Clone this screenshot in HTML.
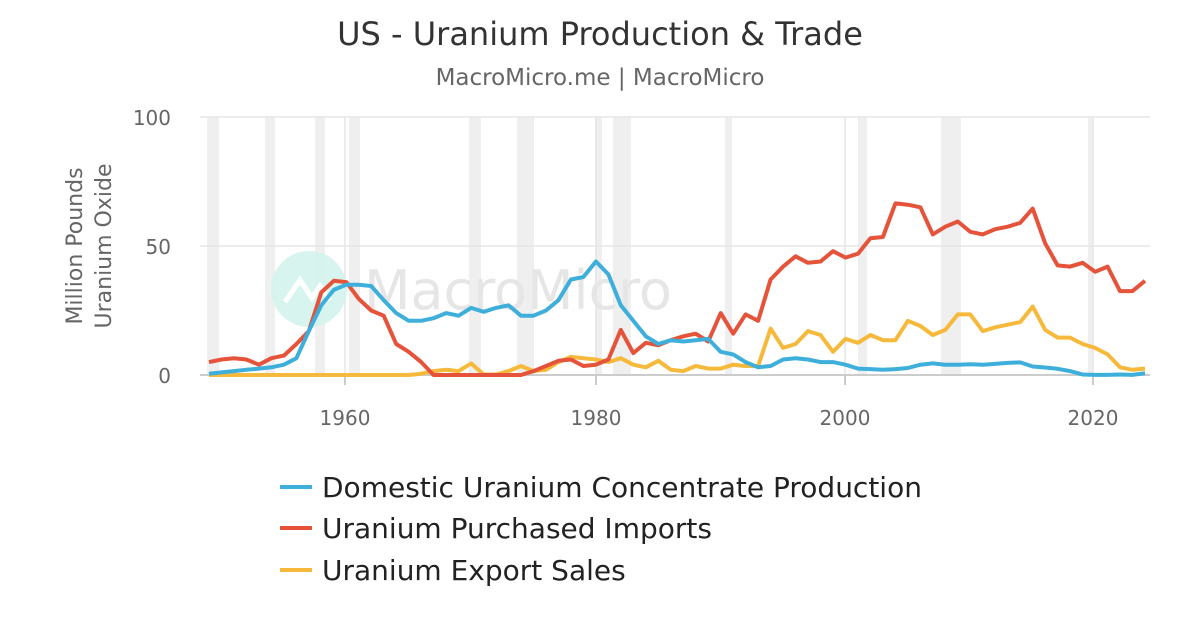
<!DOCTYPE html>
<html><head><meta charset="utf-8"><style>
body{margin:0;background:#fff;width:1200px;height:630px;overflow:hidden;font-family:"DejaVu Sans","Liberation Sans",sans-serif}
</style></head><body>
<svg id="s" width="1200" height="630" xmlns="http://www.w3.org/2000/svg" font-family="DejaVu Sans, Liberation Sans, sans-serif">
<text x="600" y="45" text-anchor="middle" font-size="32" fill="#333">US - Uranium Production &amp; Trade</text>
<text x="600" y="85" text-anchor="middle" font-size="23" fill="#666">MacroMicro.me | MacroMicro</text>
<g fill="#efefef">
<rect x="207" y="117" width="12" height="258"/><rect x="265" y="117" width="10" height="258"/>
<rect x="315" y="117" width="10" height="258"/><rect x="349" y="117" width="11" height="258"/>
<rect x="469" y="117" width="12" height="258"/><rect x="517" y="117" width="17" height="258"/>
<rect x="595" y="117" width="7" height="258"/><rect x="613" y="117" width="18" height="258"/>
<rect x="725" y="117" width="7" height="258"/><rect x="858" y="117" width="9" height="258"/>
<rect x="941" y="117" width="20" height="258"/><rect x="1088" y="117" width="5" height="258"/>
</g>
<g stroke="#e6e6e6" stroke-width="1.5">
<line x1="200" y1="117" x2="1150" y2="117"/><line x1="200" y1="246" x2="1150" y2="246"/>
<line x1="345" y1="117" x2="345" y2="375"/><line x1="596" y1="117" x2="596" y2="375"/>
<line x1="845" y1="117" x2="845" y2="375"/><line x1="1093" y1="117" x2="1093" y2="375"/>
</g>
<line x1="200" y1="375" x2="1150" y2="375" stroke="#ccc" stroke-width="2"/>
<g stroke="#ccc" stroke-width="2"><line x1="345" y1="375" x2="345" y2="385"/><line x1="596" y1="375" x2="596" y2="385"/><line x1="845" y1="375" x2="845" y2="385"/><line x1="1093" y1="375" x2="1093" y2="385"/></g>
<circle cx="309" cy="289" r="38" fill="#d3f4ec" opacity="0.9"/>
<polyline points="285,302 300,280 312,298 320,286 330,300" fill="none" stroke="#fff" stroke-width="5"/>
<text x="364" y="309" font-size="54" fill="#e6e6e6" textLength="308" lengthAdjust="spacingAndGlyphs">MacroMicro</text>
<g font-size="20" fill="#666" text-anchor="end">
<text x="171" y="125">100</text><text x="171" y="254">50</text><text x="171" y="383">0</text></g>
<g font-size="20" fill="#666" text-anchor="middle">
<text x="345" y="425">1960</text><text x="596" y="425">1980</text><text x="845" y="425">2000</text><text x="1093" y="425">2020</text></g>
<g font-size="22" fill="#666" text-anchor="middle">
<text transform="translate(82,246) rotate(-90)">Million Pounds</text>
<text transform="translate(111,246) rotate(-90)">Uranium Oxide</text></g>
<g id="lines" fill="none" stroke-width="4" stroke-linejoin="round"></g>
<g font-size="28" fill="#222">
<line x1="280" y1="487" x2="312" y2="487" stroke="#3eaedb" stroke-width="4"/><text x="322" y="497">Domestic Uranium Concentrate Production</text>
<line x1="280" y1="528" x2="312" y2="528" stroke="#e6533b" stroke-width="4"/><text x="322" y="538">Uranium Purchased Imports</text>
<line x1="280" y1="570" x2="312" y2="570" stroke="#f6b93b" stroke-width="4"/><text x="322" y="580">Uranium Export Sales</text>
</g>
</svg>
<script>
var blue=[0.5,1,1.5,2,2.5,3,4,6.5,17,27,33,35,35,34.5,29,24,21,21,22,24,23,26,24.5,26,27,23,23,25,29,37,38,44,39,27,21,15,12,13.5,13,13.5,14,9,8,5,3,3.5,6,6.5,6,5,5,4,2.5,2.3,2,2.3,2.7,4,4.5,4,4,4.2,4,4.3,4.7,4.9,3.3,2.9,2.4,1.5,0.2,0.05,0.02,0.2,0.05,0.7];
var red=[5,6,6.5,6,4,6.5,7.5,12,17,32,36.5,36,29.5,25,23,12,9,5,0,0,0,0,0,0,0,0,1.5,3.5,5.5,6,3.5,4,6,17.5,8.5,12.5,11.5,13.5,15,16,13,24,16,23.5,21,37,42,46,43.5,44,48,45.5,47,53,53.5,66.5,66,65,54.5,57.5,59.5,55.5,54.5,56.5,57.5,59,64.5,51,42.5,42,43.5,40,42,32.5,32.5,36.5];
var yel=[0,0,0,0,0,0,0,0,0,0,0,0,0,0,0,0,0,0.5,1.5,2,1.5,4.5,0.2,0.2,1.5,3.5,1.5,2,5,7,6.5,6,5,6.5,4,3,5.5,2,1.5,3.5,2.5,2.5,4,3.5,3.5,18,10.5,12,17,15.5,9,14,12.5,15.5,13.5,13.5,21,19,15.5,17.5,23.5,23.5,17,18.5,19.5,20.5,26.5,17.5,14.5,14.5,12,10.5,8,3,2,2.5];
function pts(a){return a.map(function(v,i){return (209+12.48*i).toFixed(1)+','+(375-2.58*v).toFixed(1)}).join(' ')}
var g=document.getElementById('lines');
[[yel,'#f6b93b'],[red,'#e6533b'],[blue,'#3eaedb']].forEach(function(s){
var p=document.createElementNS('http://www.w3.org/2000/svg','polyline');
p.setAttribute('points',pts(s[0]));p.setAttribute('stroke',s[1]);g.appendChild(p);});
</script>
</body></html>
